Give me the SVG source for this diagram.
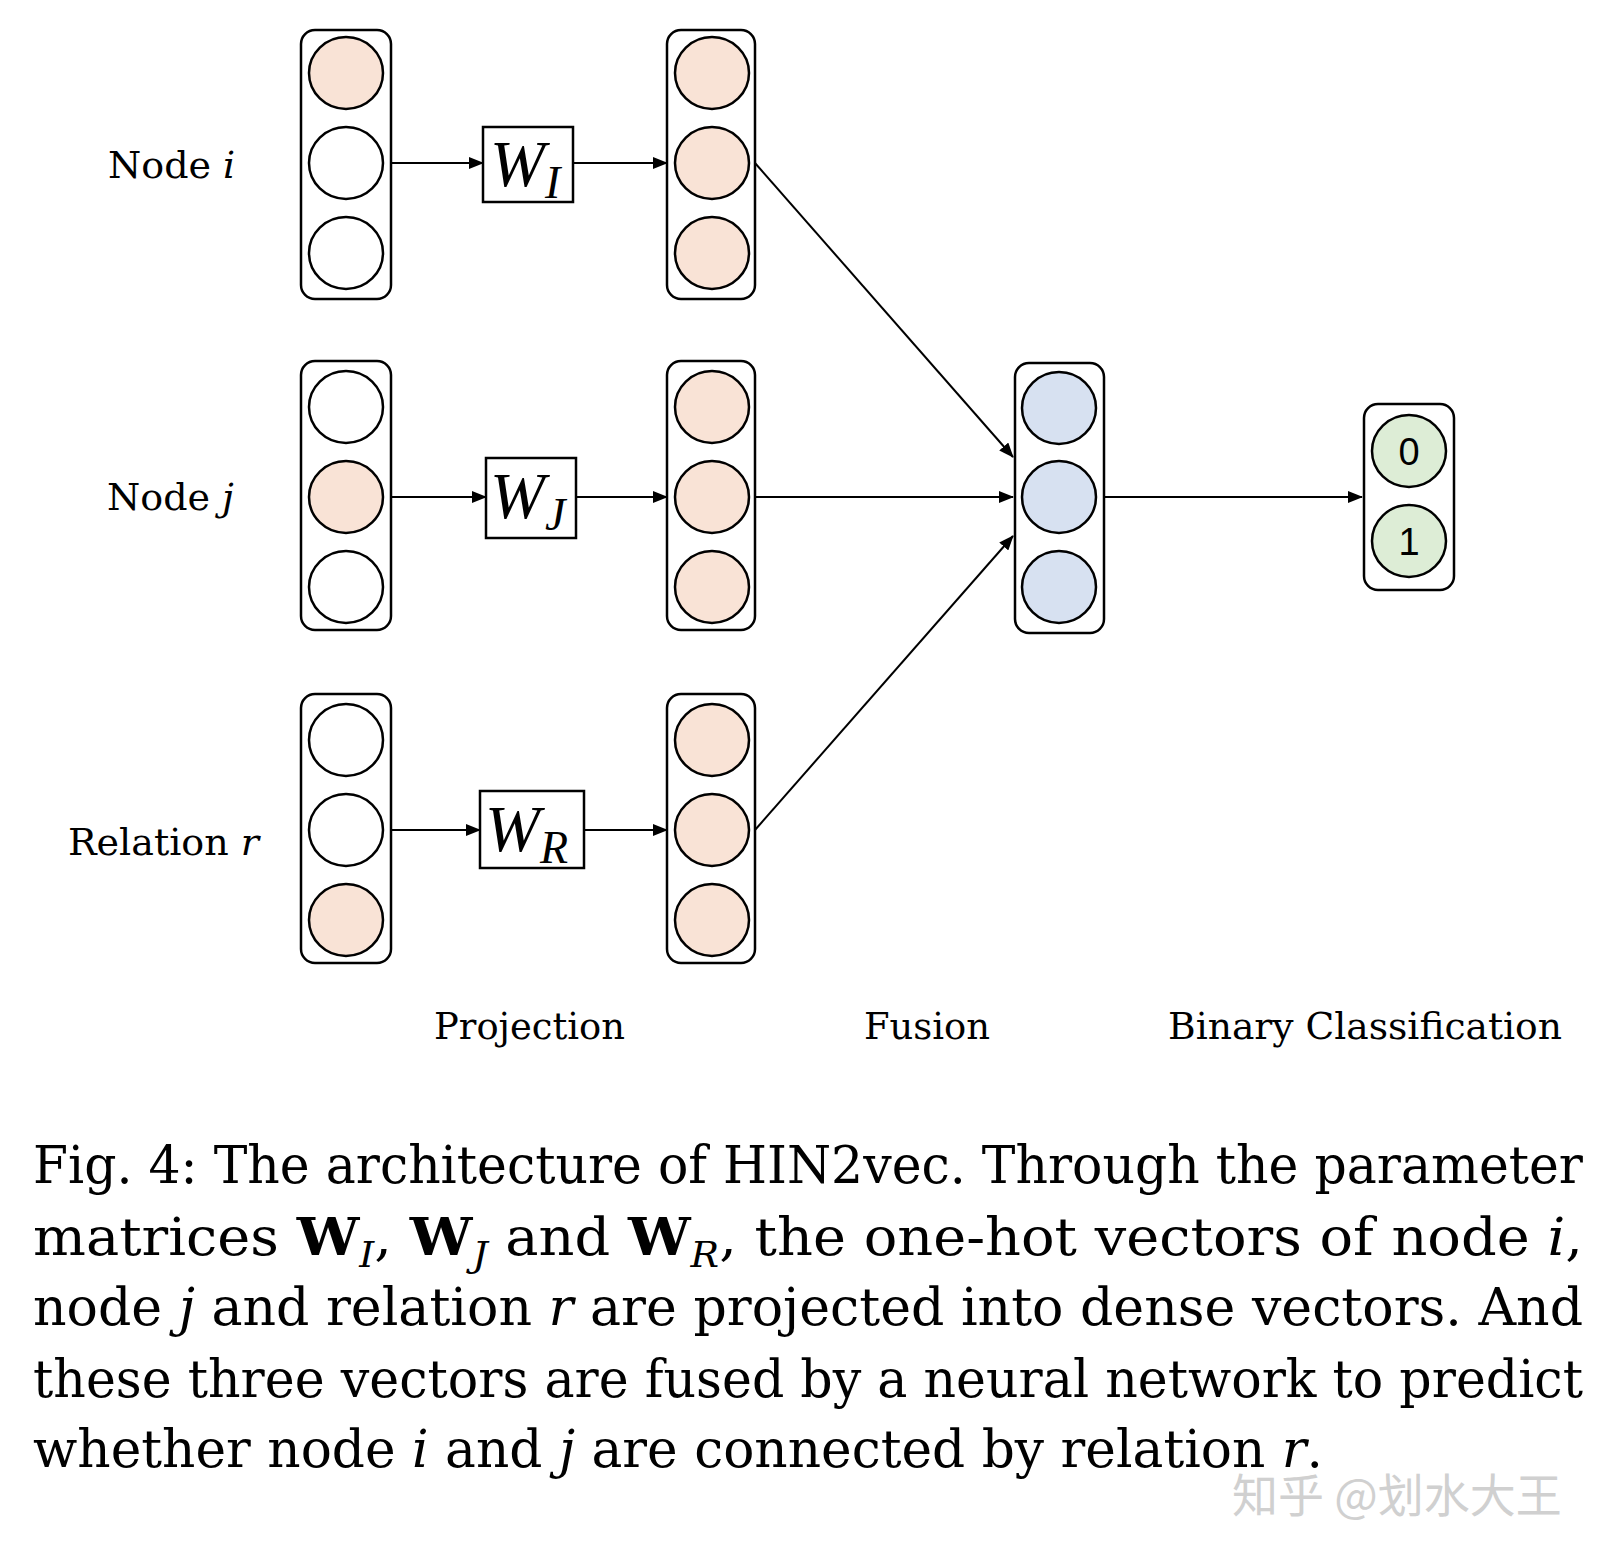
<svg xmlns="http://www.w3.org/2000/svg" width="1608" height="1552" viewBox="0 0 1608 1552">
<defs>
<style>
.col{fill:#fff;stroke:#000;stroke-width:2.5}
.c{stroke:#000;stroke-width:2.5}
.o{fill:#f9e3d6}.w{fill:#fff}.b{fill:#d7e1f1}.g{fill:#ddedd6}
.bx{fill:#fff;stroke:#000;stroke-width:2.5}
.ln{stroke:#000;stroke-width:2;fill:none;marker-end:url(#ar)}
.lab{font-family:"DejaVu Serif",serif;font-size:38px}
.wt{font-family:"Liberation Serif",serif;font-style:italic;font-size:66px}
.cap{font-family:"DejaVu Serif",serif;font-size:53px}
.wm{font-family:"Noto Sans CJK SC",sans-serif;font-size:46px;fill:#d0d0d0}
.num{font-family:"Liberation Sans",sans-serif;font-size:38px}
</style>
<marker id="ar" markerWidth="15" markerHeight="12" refX="14" refY="6" orient="auto" markerUnits="userSpaceOnUse"><path d="M0,0 L15,6 L0,12 z"/></marker>
</defs>
<rect width="1608" height="1552" fill="#fff"/>
<g id="connectors">
<line class="ln" x1="391" y1="163" x2="483" y2="163"/>
<line class="ln" x1="573" y1="163" x2="667" y2="163"/>
<line class="ln" x1="391" y1="497" x2="486" y2="497"/>
<line class="ln" x1="576" y1="497" x2="667" y2="497"/>
<line class="ln" x1="391" y1="830" x2="480" y2="830"/>
<line class="ln" x1="584" y1="830" x2="667" y2="830"/>
<line class="ln" x1="755" y1="163" x2="1013" y2="457"/>
<line class="ln" x1="755" y1="497" x2="1013" y2="497"/>
<line class="ln" x1="755" y1="830" x2="1013" y2="536"/>
<line class="ln" x1="1104" y1="497" x2="1362" y2="497"/>
</g>
<g id="input-i"><rect class="col" x="301" y="30" width="90" height="269" rx="14"/>
<ellipse class="c o" cx="346" cy="73" rx="37" ry="36"/><ellipse class="c w" cx="346" cy="163" rx="37" ry="36"/><ellipse class="c w" cx="346" cy="253" rx="37" ry="36"/></g>
<g id="input-j"><rect class="col" x="301" y="361" width="90" height="269" rx="14"/>
<ellipse class="c w" cx="346" cy="407" rx="37" ry="36"/><ellipse class="c o" cx="346" cy="497" rx="37" ry="36"/><ellipse class="c w" cx="346" cy="587" rx="37" ry="36"/></g>
<g id="input-r"><rect class="col" x="301" y="694" width="90" height="269" rx="14"/>
<ellipse class="c w" cx="346" cy="740" rx="37" ry="36"/><ellipse class="c w" cx="346" cy="830" rx="37" ry="36"/><ellipse class="c o" cx="346" cy="920" rx="37" ry="36"/></g>
<g id="proj-i"><rect class="col" x="667" y="30" width="88" height="269" rx="14"/>
<ellipse class="c o" cx="712" cy="73" rx="37" ry="36"/><ellipse class="c o" cx="712" cy="163" rx="37" ry="36"/><ellipse class="c o" cx="712" cy="253" rx="37" ry="36"/></g>
<g id="proj-j"><rect class="col" x="667" y="361" width="88" height="269" rx="14"/>
<ellipse class="c o" cx="712" cy="407" rx="37" ry="36"/><ellipse class="c o" cx="712" cy="497" rx="37" ry="36"/><ellipse class="c o" cx="712" cy="587" rx="37" ry="36"/></g>
<g id="proj-r"><rect class="col" x="667" y="694" width="88" height="269" rx="14"/>
<ellipse class="c o" cx="712" cy="740" rx="37" ry="36"/><ellipse class="c o" cx="712" cy="830" rx="37" ry="36"/><ellipse class="c o" cx="712" cy="920" rx="37" ry="36"/></g>
<g id="fusion"><rect class="col" x="1015" y="363" width="89" height="270" rx="14"/>
<ellipse class="c b" cx="1059" cy="408" rx="37" ry="36"/><ellipse class="c b" cx="1059" cy="497" rx="37" ry="36"/><ellipse class="c b" cx="1059" cy="587" rx="37" ry="36"/></g>
<g id="output"><rect class="col" x="1364" y="404" width="90" height="186" rx="14"/>
<ellipse class="c g" cx="1409" cy="451" rx="37" ry="36"/><ellipse class="c g" cx="1409" cy="541" rx="37" ry="36"/>
<text class="num" x="1409" y="465" text-anchor="middle">0</text><text class="num" x="1409" y="555" text-anchor="middle">1</text></g>
<g id="WI"><rect class="bx" x="483" y="127" width="90" height="75"/><text class="wt" x="490" y="186">W<tspan font-size="46" dy="12">I</tspan></text></g>
<g id="WJ"><rect class="bx" x="486" y="458" width="90" height="80"/><text class="wt" x="490" y="518">W<tspan font-size="46" dy="12">J</tspan></text></g>
<g id="WR"><rect class="bx" x="480" y="791" width="104" height="77"/><text class="wt" x="485" y="851">W<tspan font-size="46" dy="12">R</tspan></text></g>
<g id="labels">
<text class="lab" x="108" y="178">Node <tspan font-style="italic">i</tspan></text>
<text class="lab" x="107" y="510">Node <tspan font-style="italic">j</tspan></text>
<text class="lab" x="68" y="855">Relation <tspan font-style="italic">r</tspan></text>
<text class="lab" x="434" y="1039" textLength="191" lengthAdjust="spacingAndGlyphs">Projection</text>
<text class="lab" x="864" y="1039" textLength="126" lengthAdjust="spacingAndGlyphs">Fusion</text>
<text class="lab" x="1168" y="1039" textLength="394" lengthAdjust="spacingAndGlyphs">Binary Classification</text>
</g>
<g id="caption">
<text class="cap" x="33" y="1183" textLength="1550" lengthAdjust="spacingAndGlyphs">Fig. 4: The architecture of HIN2vec. Through the parameter</text>
<text class="cap" x="33" y="1255" textLength="1550" lengthAdjust="spacingAndGlyphs">matrices <tspan font-weight="bold">W</tspan><tspan font-style="italic" font-size="36" dy="12">I</tspan><tspan dy="-12">, </tspan><tspan font-weight="bold">W</tspan><tspan font-style="italic" font-size="36" dy="12">J</tspan><tspan dy="-12"> and </tspan><tspan font-weight="bold">W</tspan><tspan font-style="italic" font-size="36" dy="12">R</tspan><tspan dy="-12">, the one-hot vectors of node </tspan><tspan font-style="italic">i</tspan>,</text>
<text class="cap" x="33" y="1325" textLength="1550" lengthAdjust="spacingAndGlyphs">node <tspan font-style="italic">j</tspan> and relation <tspan font-style="italic">r</tspan> are projected into dense vectors. And</text>
<text class="cap" x="33" y="1397" textLength="1550" lengthAdjust="spacingAndGlyphs">these three vectors are fused by a neural network to predict</text>
<text class="cap" x="33" y="1467" textLength="1290" lengthAdjust="spacingAndGlyphs">whether node <tspan font-style="italic">i</tspan> and <tspan font-style="italic">j</tspan> are connected by relation <tspan font-style="italic">r</tspan>.</text>
</g>
<text class="wm" x="1232" y="1512">知乎 @划水大王</text>
</svg>
